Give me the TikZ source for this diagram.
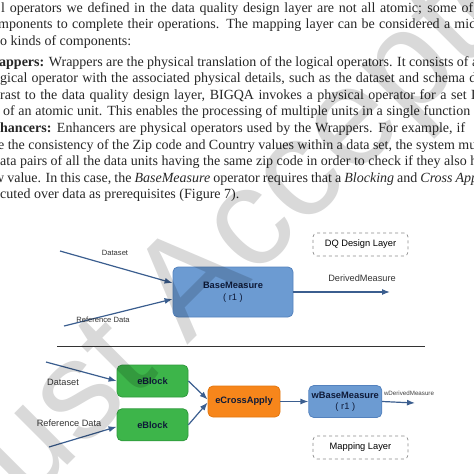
\documentclass[tikz,border=0pt]{standalone}
\usepackage{fontspec}
\setmainfont{Liberation Serif}
\setsansfont{Liberation Sans}
\usepackage{xcolor}
\usepackage{tikz}
\usetikzlibrary{arrows.meta, positioning, calc}

\definecolor{measureblue}{HTML}{6C9BD2}
\definecolor{measureedge}{HTML}{5482BE}
\definecolor{enhgreen}{HTML}{3DB54A}
\definecolor{enhedge}{HTML}{2F9A3C}
\definecolor{crossorange}{HTML}{F7861B}
\definecolor{crossedge}{HTML}{E27710}
\definecolor{flowblue}{HTML}{3B5E8F}
\definecolor{boxtext}{HTML}{0E1A38}

\begin{document}
\begin{tikzpicture}[
                x=1pt, y=-1pt,
                txtline/.style={anchor=base west, inner sep=0pt, font=\fontsize{14}{16}\selectfont, text=black!85},
                opbox/.style={rectangle, rounded corners=5pt, draw, line width=0.8pt, align=center, inner sep=1pt,
                              font=\sffamily\bfseries\fontsize{9.3}{11}\selectfont, text=boxtext},
                measure/.style={opbox, fill=measureblue, draw=measureedge},
                enhancer/.style={opbox, fill=enhgreen, draw=enhedge, minimum width=71pt, minimum height=32pt},
                crossop/.style={opbox, fill=crossorange, draw=crossedge, minimum width=72pt, minimum height=31pt},
                layerbox/.style={rectangle, rounded corners=4pt, draw=black!45, dashed, line width=0.7pt,
                                 minimum width=95pt, minimum height=23pt, font=\sffamily\fontsize{9.3}{11}\selectfont},
                flow/.style={-{Latex[length=8pt, width=6pt]}, draw=flowblue, line width=1.2pt},
                lbl/.style={font=\sffamily\fontsize{9.2}{11}\selectfont, text=black!80, inner sep=0pt},
                smalllbl/.style={font=\sffamily\fontsize{7.6}{9}\selectfont, text=black!80, inner sep=0pt},
                wmark/.style={anchor=base west, rotate=45, inner sep=0pt, font=\sffamily\fontsize{140}{140}\selectfont,
                              text=black, text opacity=0.15}
            ]
                \useasboundingbox (0,0) rectangle (474,474);
                \clip (0,0) rectangle (474,474);

                % Page text above the figure
                \node[txtline] (l1) at (1,12.3) {\hbox to 472pt{l operators we defined in the data quality design layer are not all atomic; some of}};
                \node[txtline] (l2) at (-2,28.8) {\hbox to 478pt{mponents to complete their operations. The mapping layer can be considered a mid}};
                \node[txtline] (l3) at (0,45.3) {o kinds of components:};
                \node[txtline] (l4) at (-1,66) {\hbox to 479pt{\textbf{appers:} Wrappers are the physical translation of the logical operators. It consists of a}};
                \node[txtline] (l5) at (0,82.6) {\hbox to 476pt{gical operator with the associated physical details, such as the dataset and schema d}};
                \node[txtline] (l6) at (0,99.2) {\hbox to 481pt{rast to the data quality design layer, BIGQA invokes a physical operator for a set D}};
                \node[txtline] (l7) at (3,115.8) {\hbox to 467pt{of an atomic unit. This enables the processing of multiple units in a single function}};
                \node[txtline] (l8) at (0,132.4) {\hbox to 465pt{\textbf{hancers:} Enhancers are physical operators used by the Wrappers. For example, if}};
                \node[txtline] (l9) at (-2,149) {\hbox to 478pt{e the consistency of the Zip code and Country values within a data set, the system mu}};
                \node[txtline] (l10) at (0,165.6) {\hbox to 477pt{ata pairs of all the data units having the same zip code in order to check if they also h}};
                \node[txtline] (l11) at (-6,182.2) {\hbox to 484pt{w value. In this case, the \textit{BaseMeasure} operator requires that a \textit{Blocking} and \textit{Cross App}}};
                \node[txtline] (l12) at (0,198.8) {cuted over data as prerequisites (Figure 7).};

                % DQ design layer
                \node[measure, minimum width=120pt, minimum height=50pt] (bm) at (233,292) {BaseMeasure\\[1pt]{\mdseries ( r1 )}};
                \node[layerbox] (dqLayer) at (360.5,244.5) {DQ Design Layer};
                \coordinate (dsTop) at (60,251);
                \coordinate (refTop) at (64,326);
                \coordinate (dmEnd) at (390,292);
                \draw[flow] (dsTop) -- ([yshift=9pt]bm.west);
                \draw[flow] (refTop) -- ([yshift=-7pt]bm.west);
                \draw[flow] (bm.east) -- (dmEnd);
                \node[smalllbl] (dsTopLbl) at (115,253) {Dataset};
                \node[smalllbl] (refTopLbl) at (103,320) {Reference Data};
                \node[lbl] (dmLbl) at (362,278) {DerivedMeasure};

                % Separator
                \coordinate (sepL) at (57,346);
                \coordinate (sepR) at (425,346);
                \draw[black!80, line width=0.9pt] (sepL) -- (sepR);

                % Mapping layer
                \node[enhancer] (eb1) at (152.5,381) {eBlock};
                \node[enhancer, below=11pt of eb1] (eb2) {eBlock};
                \node[crossop] (cross) at (244,401.5) {eCrossApply};
                \node[measure, minimum width=73pt, minimum height=32pt, right=28pt of cross] (wbm) {wBaseMeasure\\{\mdseries ( r1 )}};
                \node[layerbox] (mapLayer) at (360.5,447.5) {Mapping Layer};
                \coordinate (dsBot) at (46,362);
                \coordinate (refBot) at (49,447);
                \coordinate (wdmEnd) at (415,403);
                \draw[flow] (dsBot) -- (eb1.west);
                \draw[flow] (refBot) -- ([yshift=-2pt]eb2.west);
                \draw[flow] (eb1.east) -- ([yshift=2pt]cross.west);
                \draw[flow] (eb2.east) -- ([yshift=-1pt]cross.west);
                \draw[flow] (cross.east) -- (wbm.west);
                \draw[flow] (wbm.east) -- (wdmEnd);
                \node[lbl] (dsBotLbl) at (63,382) {Dataset};
                \node[lbl] (refBotLbl) at (69,423) {Reference Data};
                \node[font=\sffamily\fontsize{6.2}{7}\selectfont, text=black!75, inner sep=0pt] (wdmLbl) at (409,393) {wDerivedMeasure};

                % Watermark
                \node[wmark] (wm) at (-22,555) {Just Accepted};
            \end{tikzpicture}
\end{document}
